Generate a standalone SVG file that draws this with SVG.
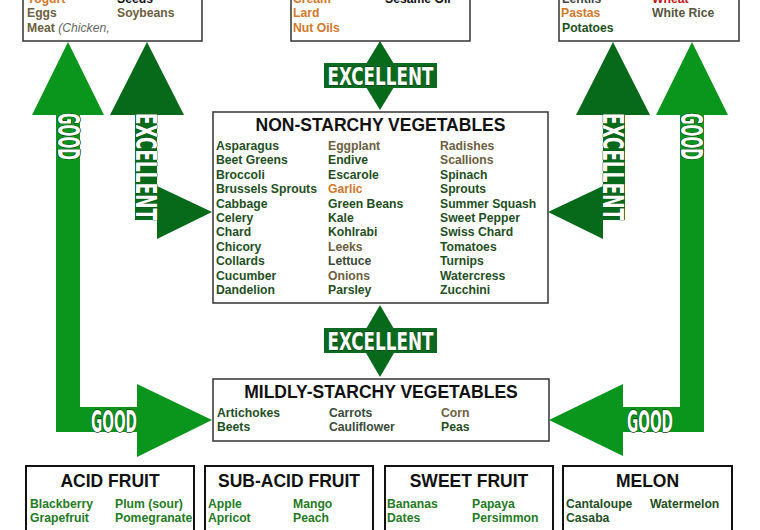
<svg xmlns="http://www.w3.org/2000/svg" width="760" height="530" viewBox="0 0 760 530">
<style>
.box{fill:#fff;stroke:#333;stroke-width:1.5}
.fbox{fill:#fff;stroke:#111;stroke-width:2}
.t{font-family:"Liberation Sans",Arial,sans-serif;font-weight:bold;font-size:12.2px}
.ttl{font-family:"Liberation Sans",Arial,sans-serif;font-weight:bold;font-size:17.5px;fill:#111;text-anchor:middle}
.g{fill:#1f4f1f}
.o{fill:#6b6040}
.gr{fill:#3a4a3a}
.or{fill:#d2782a}
.fr{fill:#257a25}
.k{fill:#111}
.lab{font-family:"DejaVu Sans Condensed","DejaVu Sans",sans-serif;font-weight:bold;fill:#fff;paint-order:stroke;stroke-linejoin:round}
.bright{fill:#0a961c}
.dark{fill:#066a1a}
</style>

<g id="connectors">
  <polygon class="bright" points="68,42 104,115 80,115 80,407 137,407 137,384 212,420 137,457 137,432 56,432 56,115 32,115"/>
  <polygon class="dark" points="147,42 184,115 157,115 157,186 212,212 157,239 157,220 135,220 135,115 110,115"/>
  <polygon class="dark" points="613,42 650,115 625,115 625,220 603,220 603,239 548,212 603,186 603,115 576,115"/>
  <polygon class="bright" points="692,42 728,115 704,115 704,432 623,432 623,456 549,420 623,384 623,407 680,407 680,115 656,115"/>
  <polygon class="dark" points="380,41 401,75.5 380,110 359,75.5"/>
  <polygon class="dark" points="380,305 401,341 380,377 359,341"/>
  <rect x="324" y="63" width="113" height="25" fill="#0b6a20"/>
  <rect x="324" y="328" width="113" height="25" fill="#0b6a20"/>
  <text class="lab" x="327.5" y="85" font-size="25" textLength="106" lengthAdjust="spacingAndGlyphs" stroke="#033d0c" stroke-width="0.8">EXCELLENT</text>
  <text class="lab" x="327.5" y="350" font-size="25" textLength="106" lengthAdjust="spacingAndGlyphs" stroke="#033d0c" stroke-width="0.8">EXCELLENT</text>
  <text class="lab" x="91" y="432" font-size="30" textLength="46" lengthAdjust="spacingAndGlyphs" stroke="#04400c" stroke-width="1.6">GOOD</text>
  <text class="lab" x="627" y="432" font-size="30" textLength="46" lengthAdjust="spacingAndGlyphs" stroke="#04400c" stroke-width="1.6">GOOD</text>
  <text class="lab" transform="translate(57.5,113) rotate(90)" x="0" y="0" font-size="30" textLength="47" lengthAdjust="spacingAndGlyphs" stroke="#04400c" stroke-width="1.6">GOOD</text>
  <text class="lab" transform="translate(680.5,113) rotate(90)" x="0" y="0" font-size="30" textLength="47" lengthAdjust="spacingAndGlyphs" stroke="#04400c" stroke-width="1.6">GOOD</text>
  <text class="lab" transform="translate(135.5,113) rotate(90)" x="0" y="0" font-size="29" textLength="107" lengthAdjust="spacingAndGlyphs" stroke="#033d0c" stroke-width="0.8">EXCELLENT</text>
  <text class="lab" transform="translate(602.5,113) rotate(90)" x="0" y="0" font-size="29" textLength="107" lengthAdjust="spacingAndGlyphs" stroke="#033d0c" stroke-width="0.8">EXCELLENT</text>
</g>

<g id="proteins">
  <rect class="box" x="23" y="-3" width="179" height="44"/>
  <text class="t or" x="27" y="2.5" font-weight="normal">Yogurt</text>
  <text class="t k" x="117" y="3">Seeds</text>
  <text class="t o" x="27" y="17">Eggs</text>
  <text class="t o" x="117" y="17">Soybeans</text>
  <text class="t o" x="27" y="31.5">Meat <tspan font-weight="normal" font-style="italic" fill="#666">(Chicken,</tspan></text>
</g>

<g id="fats">
  <rect class="box" x="291" y="-3" width="179" height="44"/>
  <text class="t or" x="293" y="2.5">Cream</text>
  <text class="t k" x="385" y="2.5">Sesame Oil</text>
  <text class="t or" x="293" y="17">Lard</text>
  <text class="t or" x="293" y="31.5">Nut Oils</text>
</g>

<g id="starches">
  <rect class="box" x="559" y="-3" width="180" height="44"/>
  <text class="t" fill="#444" x="562" y="2.5">Lentils</text>
  <text class="t" fill="#c01818" x="652" y="2.5">Wheat</text>
  <text class="t or" x="561" y="17">Pastas</text>
  <text class="t" fill="#555540" x="652" y="17">White Rice</text>
  <text class="t g" x="562" y="31.5">Potatoes</text>
</g>

<g id="non-starchy">
  <rect class="box" x="213" y="112" width="335" height="191"/>
  <text class="ttl" x="380.5" y="131">NON-STARCHY VEGETABLES</text>
  <g class="t">
    <text class="g" x="216" y="150">Asparagus</text>
    <text class="g" x="216" y="164.4">Beet Greens</text>
    <text class="g" x="216" y="178.8">Broccoli</text>
    <text class="g" x="216" y="193.2">Brussels Sprouts</text>
    <text class="g" x="216" y="207.6">Cabbage</text>
    <text class="g" x="216" y="222">Celery</text>
    <text class="g" x="216" y="236.4">Chard</text>
    <text class="g" x="216" y="250.8">Chicory</text>
    <text class="g" x="216" y="265.2">Collards</text>
    <text class="g" x="216" y="279.6">Cucumber</text>
    <text class="g" x="216" y="294">Dandelion</text>
    <text class="o" x="328" y="150">Eggplant</text>
    <text class="g" x="328" y="164.4">Endive</text>
    <text class="g" x="328" y="178.8">Escarole</text>
    <text class="or" x="328" y="193.2">Garlic</text>
    <text class="g" x="328" y="207.6">Green Beans</text>
    <text class="g" x="328" y="222">Kale</text>
    <text class="g" x="328" y="236.4">Kohlrabi</text>
    <text class="o" x="328" y="250.8">Leeks</text>
    <text class="gr" x="328" y="265.2">Lettuce</text>
    <text class="o" x="328" y="279.6">Onions</text>
    <text class="g" x="328" y="294">Parsley</text>
    <text class="o" x="440" y="150">Radishes</text>
    <text class="o" x="440" y="164.4">Scallions</text>
    <text class="g" x="440" y="178.8">Spinach</text>
    <text class="g" x="440" y="193.2">Sprouts</text>
    <text class="g" x="440" y="207.6">Summer Squash</text>
    <text class="g" x="440" y="222">Sweet Pepper</text>
    <text class="g" x="440" y="236.4">Swiss Chard</text>
    <text class="g" x="440" y="250.8">Tomatoes</text>
    <text class="g" x="440" y="265.2">Turnips</text>
    <text class="g" x="440" y="279.6">Watercress</text>
    <text class="g" x="440" y="294">Zucchini</text>
  </g>
</g>

<g id="mildly-starchy">
  <rect class="box" x="213" y="379" width="336" height="62"/>
  <text class="ttl" x="381" y="398">MILDLY-STARCHY VEGETABLES</text>
  <g class="t">
    <text class="g" x="217" y="416.5">Artichokes</text>
    <text class="g" x="217" y="430.9">Beets</text>
    <text class="gr" x="329" y="416.5">Carrots</text>
    <text class="gr" x="329" y="430.9">Cauliflower</text>
    <text class="o" x="441" y="416.5">Corn</text>
    <text class="g" x="441" y="430.9">Peas</text>
  </g>
</g>

<g id="acid-fruit">
  <rect class="fbox" x="26" y="466" width="168" height="80"/>
  <text class="ttl" x="110" y="487">ACID FRUIT</text>
  <text class="t fr" x="30" y="507.5">Blackberry</text>
  <text class="t fr" x="30" y="521.9">Grapefruit</text>
  <text class="t fr" x="115" y="507.5">Plum (sour)</text>
  <text class="t fr" x="115" y="521.9">Pomegranate</text>
</g>

<g id="sub-acid-fruit">
  <rect class="fbox" x="205" y="466" width="168" height="80"/>
  <text class="ttl" x="289" y="487">SUB-ACID FRUIT</text>
  <text class="t fr" x="208" y="507.5">Apple</text>
  <text class="t fr" x="208" y="521.9">Apricot</text>
  <text class="t fr" x="293" y="507.5">Mango</text>
  <text class="t fr" x="293" y="521.9">Peach</text>
</g>

<g id="sweet-fruit">
  <rect class="fbox" x="385" y="466" width="168" height="80"/>
  <text class="ttl" x="469" y="487">SWEET FRUIT</text>
  <text class="t fr" x="387" y="507.5">Bananas</text>
  <text class="t fr" x="387" y="521.9">Dates</text>
  <text class="t fr" x="472" y="507.5">Papaya</text>
  <text class="t fr" x="472" y="521.9">Persimmon</text>
</g>

<g id="melon">
  <rect class="fbox" x="563" y="466" width="169" height="80"/>
  <text class="ttl" x="647.5" y="487">MELON</text>
  <text class="t g" x="566" y="507.5">Cantaloupe</text>
  <text class="t g" x="566" y="521.9">Casaba</text>
  <text class="t g" x="650" y="507.5">Watermelon</text>
</g>
</svg>
